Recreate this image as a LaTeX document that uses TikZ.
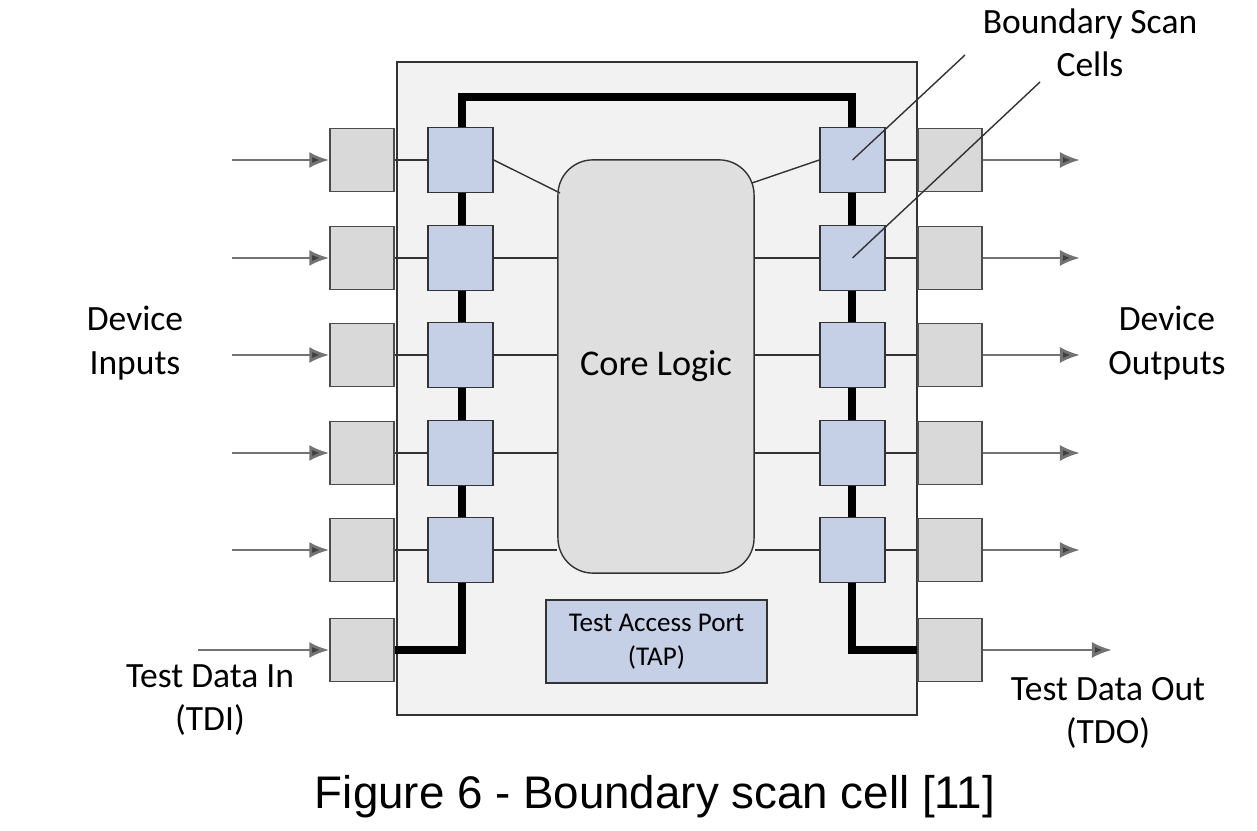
\documentclass[tikz,border=0pt]{standalone}
\usepackage{fontspec}
\setmainfont{Carlito}
\newfontfamily\capfont{Liberation Sans}
\usetikzlibrary{arrows.meta}
\definecolor{pin}{HTML}{D9D9D9}
\definecolor{cell}{HTML}{C5D0E6}
\definecolor{chip}{HTML}{F2F2F2}
\begin{document}
\begin{tikzpicture}[x=0.01cm,y=-0.01cm,
 pinbox/.style={draw=black!70,fill=pin,minimum width=0.64cm,minimum height=0.63cm,inner sep=0},
 cellbox/.style={draw=black!80,fill=cell,minimum width=0.65cm,minimum height=0.65cm,inner sep=0},
 thin/.style={draw=black!80,line width=0.4pt},
 bus/.style={line width=2.2pt,line cap=rect},
 sig/.style={draw=black!55,line width=0.8pt,-{Latex[length=0.2cm,width=0.16cm,fill=black!75]}},
 lab/.style={font=\fontsize{10.1}{12.4}\selectfont,align=center}]
\useasboundingbox (0,0) rectangle (1257,831);
\node[draw=black!80,fill=chip,minimum width=5.2cm,minimum height=6.53cm,inner sep=0] (chip) at (657,388.5) {};
\node[draw=black!80,fill=pin!85!white,rounded corners=0.35cm,minimum width=1.96cm,minimum height=4.13cm,inner sep=0,font=\fontsize{10.3}{12}\selectfont] (core) at (656,366.5) {Core Logic};
\node[draw=black!80,fill=cell,minimum width=2.21cm,minimum height=0.83cm,inner sep=0,align=center,font=\fontsize{7.7}{9.6}\selectfont] (tap) at (656.5,641.5) {Test Access Port\\(TAP)};
% thick bus
\coordinate (b1) at (462,97); \coordinate (b2) at (852,97);
\draw[bus] (396,650) -| (b1) -- (b2) |- (918,650);
\foreach \i/\y in {1/160,2/258,3/355,4/453,5/550}{
 \node[pinbox] (lp\i) at (362,\y) {};
 \node[pinbox] (rp\i) at (950,\y) {};
 \node[cellbox] (lc\i) at (460.5,\y) {};
 \node[cellbox] (rc\i) at (852.5,\y) {};
 \draw[thin] (lp\i) -- (lc\i);
 \draw[thin] (rc\i) -- (rp\i);
 \coordinate (la\i) at (232,\y); \coordinate (ra\i) at (1080,\y);
 \draw[sig] (la\i) -- (lp\i);
 \draw[sig] (rp\i) -- (ra\i);
}
\foreach \i in {2,3,4,5}{
 \draw[thin] (lc\i) -- (core.west |- lc\i);
 \draw[thin] (core.east |- rc\i) -- (rc\i);
}
\coordinate (cl) at (560,193); \coordinate (cr) at (752,183);
\draw[thin] (lc1.east) -- (cl);
\draw[thin] (cr) -- (rc1.west);
\node[pinbox] (lp6) at (362,650) {};
\node[pinbox] (rp6) at (950,650) {};
\coordinate (tdi) at (198,650); \coordinate (tdo) at (1112,650);
\draw[sig] (tdi) -- (lp6);
\draw[sig] (rp6) -- (tdo);
% labels
\node[lab] (din) at (135,343) {Device\\Inputs};
\node[lab] (dout) at (1167,343) {Device\\Outputs};
\node[lab] (ti) at (210,700) {Test Data In\\(TDI)};
\node[lab] (to) at (1108,713) {Test Data Out\\(TDO)};
\node[lab] (bsc) at (1090,43) {Boundary Scan\\Cells};
\coordinate (l1) at (965,55); \coordinate (l2) at (1040,82);
\draw[thin] (l1) -- (rc1.center);
\draw[thin] (l2) -- (rc2.center);
\node[font=\capfont\fontsize{13}{15}\selectfont] (cap) at (655,797) {Figure 6 - Boundary scan cell [11]};
\end{tikzpicture}
\end{document}
